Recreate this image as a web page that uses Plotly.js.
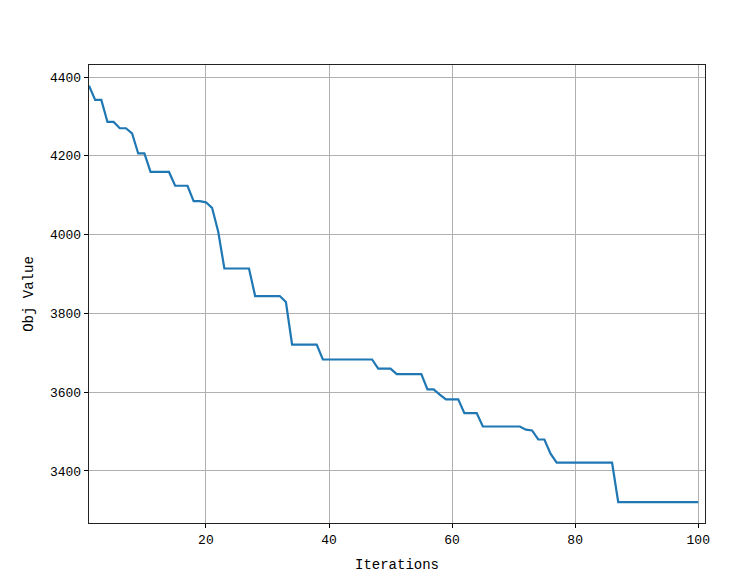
<!DOCTYPE html>
<html>
<head>
<meta charset="utf-8">
<script src="https://cdn.plot.ly/plotly-3.0.1.min.js"></script>
<style>html,body{margin:0;padding:0;background:#fff;}#chart{width:746px;height:586px;}</style>
</head>
<body>
<div id="chart"></div>
<script>
const iterations = Array.from({length: 100}, (_, k) => k + 1);
const objValues = [
  4378, 4342, 4342, 4286, 4286, 4270, 4270, 4257, 4206, 4206,
  4159, 4159, 4159, 4159, 4124, 4124, 4124, 4085, 4085, 4082,
  4068, 4007, 3914, 3914, 3914, 3914, 3914, 3844, 3844, 3844,
  3844, 3844, 3829, 3721, 3721, 3721, 3721, 3721, 3683, 3683,
  3683, 3683, 3683, 3683, 3683, 3683, 3683, 3660, 3660, 3660,
  3646, 3646, 3646, 3646, 3646, 3607, 3607, 3594, 3582, 3582,
  3582, 3547, 3547, 3547, 3513, 3513, 3513, 3513, 3513, 3513,
  3513, 3505, 3503, 3480, 3480, 3444, 3421, 3421, 3421, 3421,
  3421, 3421, 3421, 3421, 3421, 3421, 3321, 3321, 3321, 3321,
  3321, 3321, 3321, 3321, 3321, 3321, 3321, 3321, 3321, 3321
];
const xTickVals = [20, 40, 60, 80, 100];
const yTickVals = [3400, 3600, 3800, 4000, 4200, 4400];

const fontFam = '"Liberation Mono", "DejaVu Sans Mono", monospace';

const trace = {
  x: iterations,
  y: objValues,
  type: 'scatter',
  mode: 'lines',
  line: {color: '#1f77b4', width: 2.2},
  hoverinfo: 'skip'
};

const layout = {
  width: 746,
  height: 586,
  margin: {l: 89, r: 41, t: 65, b: 63},
  paper_bgcolor: '#ffffff',
  plot_bgcolor: '#ffffff',
  showlegend: false,
  font: {family: fontFam, size: 12, color: '#000'},
  xaxis: {
    range: [1, 101.1],
    tickvals: xTickVals,
    ticks: 'outside',
    ticklen: 4,
    tickwidth: 1,
    tickcolor: '#000',
    showgrid: true,
    gridcolor: '#b0b0b0',
    gridwidth: 1,
    zeroline: false,
    showline: true,
    linecolor: '#222',
    linewidth: 1.3,
    mirror: true,
    tickfont: {family: fontFam, size: 13, color: '#000'},
    title: {text: 'Iterations', font: {family: fontFam, size: 14, color: '#000'}, standoff: 12}
  },
  yaxis: {
    range: [3268, 4430.5],
    tickvals: yTickVals,
    ticks: 'outside',
    ticklen: 4,
    tickwidth: 1,
    tickcolor: '#000',
    showgrid: true,
    gridcolor: '#b0b0b0',
    gridwidth: 1,
    zeroline: false,
    showline: true,
    linecolor: '#222',
    linewidth: 1.3,
    mirror: true,
    tickfont: {family: fontFam, size: 13, color: '#000'},
    title: {text: 'Obj Value', font: {family: fontFam, size: 14, color: '#000'}, standoff: 13}
  }
};

Plotly.newPlot('chart', [trace], layout, {displayModeBar: false, staticPlot: true});
</script>
</body>
</html>
